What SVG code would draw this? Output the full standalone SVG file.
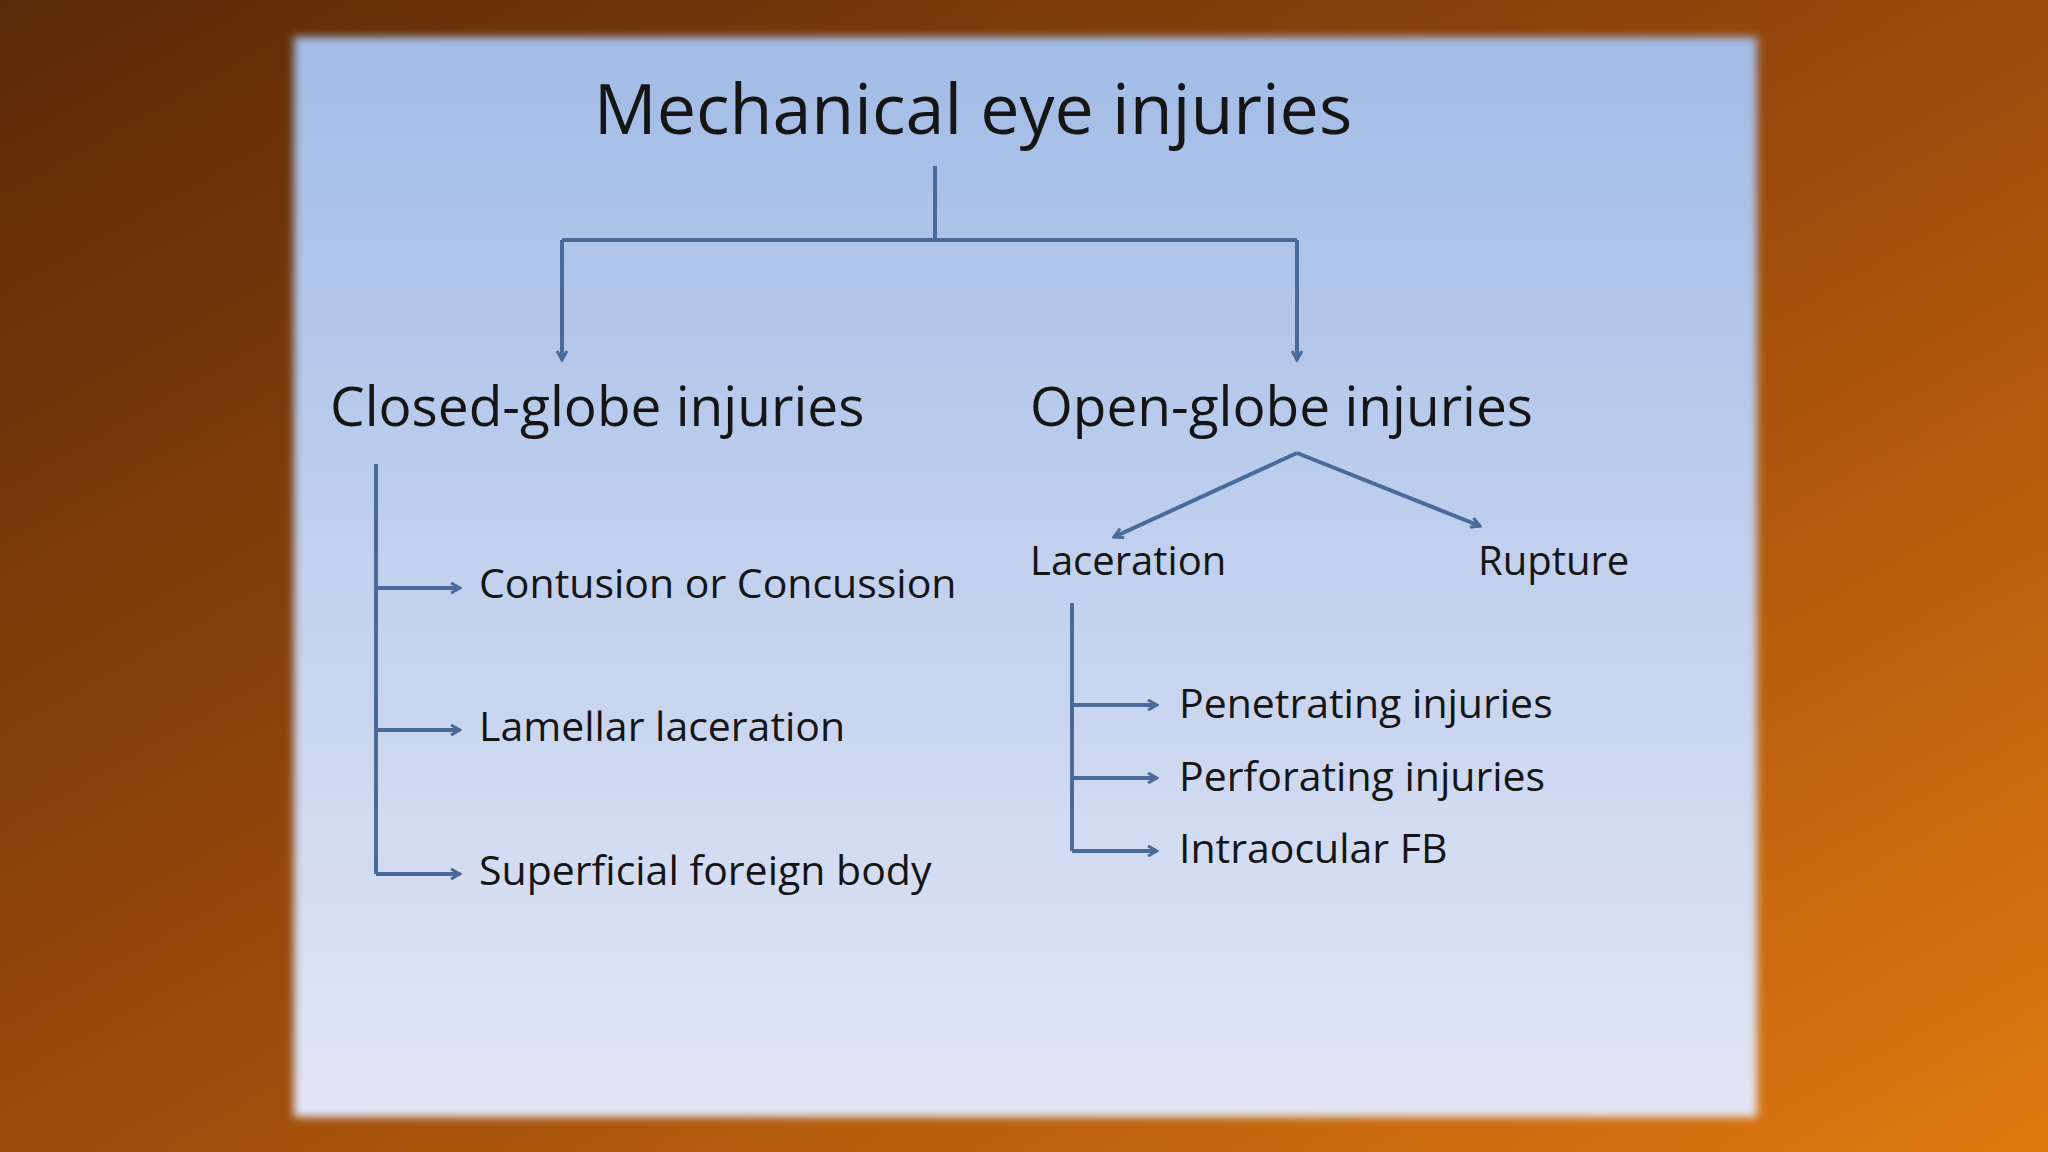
<svg xmlns="http://www.w3.org/2000/svg" width="2048" height="1152" viewBox="0 0 2048 1152">
<defs>
<linearGradient id="bg" x1="0" y1="0" x2="1" y2="1"><stop offset="0" stop-color="#5a2a08"/><stop offset="0.5" stop-color="#9a4a0c"/><stop offset="1" stop-color="#e07a10"/></linearGradient>
<linearGradient id="pn" x1="0" y1="0" x2="0" y2="1"><stop offset="0" stop-color="#a2bce6"/><stop offset="1" stop-color="#e2e6f6"/></linearGradient>
<marker id="ah" markerWidth="12" markerHeight="12" refX="10" refY="6" orient="auto" markerUnits="userSpaceOnUse"><path d="M1,1 L10,6 L1,11" fill="none" stroke="#4a6a9a" stroke-width="3"/></marker>
<filter id="bl"><feGaussianBlur stdDeviation="4"/></filter>
</defs>
<style>
.t{font-family:"Open Sans","Noto Sans",sans-serif;fill:#151515}
.c{stroke:#4a6a9a;stroke-width:4;fill:none}
.a{marker-end:url(#ah)}
</style>
<rect width="2048" height="1152" fill="url(#bg)"/>
<rect x="294" y="37" width="1463" height="1080" fill="url(#pn)" filter="url(#bl)"/>
<g id="connectors">
<path class="c" d="M935,166 V240 M562,240 H1297"/>
<path class="c a" d="M562,240 V360"/>
<path class="c a" d="M1297,240 V360"/>
<path class="c" d="M376,464 V874"/>
<path class="c a" d="M376,588 H460"/>
<path class="c a" d="M376,730 H460"/>
<path class="c a" d="M376,874 H460"/>
<path class="c a" d="M1297,453 L1114,537"/>
<path class="c a" d="M1297,453 L1480,526"/>
<path class="c" d="M1072,603 V851"/>
<path class="c a" d="M1072,705 H1157"/>
<path class="c a" d="M1072,778 H1157"/>
<path class="c a" d="M1072,851 H1157"/>
</g>
<g id="title"><text class="t" x="973" y="134" font-size="70" text-anchor="middle">Mechanical eye injuries</text></g>
<g id="closed"><text class="t" x="330" y="426" font-size="55">Closed-globe injuries</text></g>
<g id="open"><text class="t" x="1030" y="426" font-size="55">Open-globe injuries</text></g>
<g id="contusion"><text class="t" x="479" y="598" font-size="41">Contusion or Concussion</text></g>
<g id="lamellar"><text class="t" x="479" y="741" font-size="41">Lamellar laceration</text></g>
<g id="superficial"><text class="t" x="479" y="885" font-size="41">Superficial foreign body</text></g>
<g id="laceration"><text class="t" x="1030" y="575" font-size="40">Laceration</text></g>
<g id="rupture"><text class="t" x="1478" y="575" font-size="40">Rupture</text></g>
<g id="penetrating"><text class="t" x="1179" y="718" font-size="41">Penetrating injuries</text></g>
<g id="perforating"><text class="t" x="1179" y="791" font-size="41">Perforating injuries</text></g>
<g id="intraocular"><text class="t" x="1179" y="863" font-size="41">Intraocular FB</text></g>
</svg>
